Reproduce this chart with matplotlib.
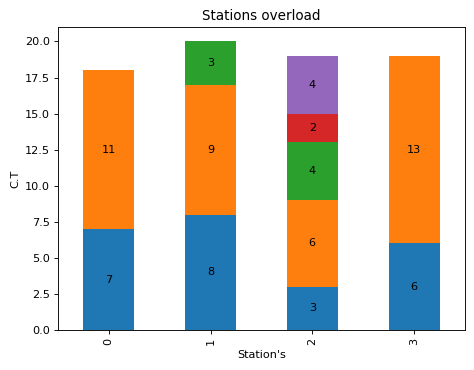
import numpy as np
import matplotlib
matplotlib.use("Agg")
import matplotlib.pyplot as plt

stations = ["0", "1", "2", "3"]
task_1 = [7, 8, 3, 6]
task_2 = [11, 9, 6, 13]
task_3 = [0, 3, 4, 0]
task_4 = [0, 0, 2, 0]
task_5 = [0, 0, 4, 0]

series = [task_1, task_2, task_3, task_4, task_5]
colors = ["#1f77b4", "#ff7f0e", "#2ca02c", "#d62728", "#9467bd"]

dpi = 81
fig = plt.figure(figsize=(474 / dpi, 370 / dpi), dpi=dpi)
ax = fig.add_axes([0.122, 0.108, 0.859, 0.819])

x = np.arange(len(stations))
bottom = np.zeros(len(stations))
for vals, c in zip(series, colors):
    vals = np.array(vals, dtype=float)
    bars = ax.bar(x, vals, 0.5, bottom=bottom, color=c)
    labels = [str(int(v)) if v > 0 else "" for v in vals]
    ax.bar_label(bars, labels=labels, label_type="center")
    bottom += vals

ax.set_xlim(-0.5, len(stations) - 0.5)
ax.set_ylim(0, 21)
ax.set_xticks(x)
ax.set_xticklabels(stations, rotation=90)
ax.set_yticks(np.arange(0, 20.1, 2.5))
ax.set_xlabel("Station's")
ax.set_ylabel("C.T")
ax.set_title("Stations overload")

plt.savefig("out.png", dpi=dpi)
